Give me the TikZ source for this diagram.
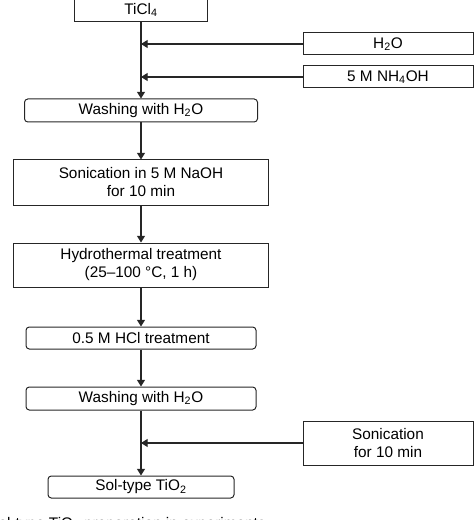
\documentclass[tikz,border=0pt]{standalone}
\usepackage{fontspec}
\setmainfont{Liberation Sans}
\usetikzlibrary{arrows.meta}

\begin{document}
\begin{tikzpicture}[x=0.75pt,y=-0.75pt,
  font=\fontsize{11.5pt}{13.5pt}\selectfont,
  box/.style={draw=black!85,line width=0.75pt,inner sep=0pt,align=center},
  roundbox/.style={box,rounded corners=2.5pt},
  flow/.style={draw=black!85,line width=0.8pt,-{Triangle[length=5pt,width=6pt]}}]
  \useasboundingbox (0,0) rectangle (474,520);
  \clip (0,0) rectangle (474,520);

  % main column
  \node[box,minimum width=99.75pt,minimum height=18pt] (ticl) at (141,10) {TiCl\textsubscript{4}};
  \node[roundbox,minimum width=174.75pt,minimum height=17.25pt] (wash1) at (141,110.5) {Washing with H\textsubscript{2}O};
  \node[box,minimum width=191.25pt,minimum height=33.75pt] (soni) at (141,182.5) {Sonication in 5 M NaOH\\for 10 min};
  \node[box,minimum width=191.25pt,minimum height=33pt] (hydro) at (141,265) {Hydrothermal treatment\\(25--100 °C, 1 h)};
  \node[roundbox,minimum width=172.5pt,minimum height=16.5pt] (hcl) at (141,338) {0.5 M HCl treatment};
  \node[roundbox,minimum width=172.5pt,minimum height=17.25pt] (wash2) at (141,398.5) {Washing with H\textsubscript{2}O};
  \node[roundbox,minimum width=139.5pt,minimum height=16.5pt] (sol) at (141,487) {Sol-type TiO\textsubscript{2}};

  % side inputs
  \node[box,minimum width=127.5pt,minimum height=16.5pt] (h2o) at (388,44) {H\textsubscript{2}O};
  \node[box,minimum width=127.5pt,minimum height=16.5pt] (nh4) at (388,77) {5 M NH\textsubscript{4}OH};
  \node[box,minimum width=127.5pt,minimum height=33pt] (soni2) at (388,443) {Sonication\\for 10 min};

  \coordinate (inH2O) at (ticl |- h2o);
  \coordinate (inNH4) at (ticl |- nh4);
  \coordinate (inSoni) at (ticl |- soni2);

  \draw[flow] (ticl) -- (wash1);
  \draw[flow] (wash1) -- (soni);
  \draw[flow] (soni) -- (hydro);
  \draw[flow] (hydro) -- (hcl);
  \draw[flow] (hcl) -- (wash2);
  \draw[flow] (wash2) -- (sol);

  \draw[flow] (h2o) -- (inH2O);
  \draw[flow] (nh4) -- (inNH4);
  \draw[flow] (soni2) -- (inSoni);

  % caption, cut off by the frame
  \node[anchor=base west,inner sep=0pt] (caption) at (-97,528) {Flowchart of sol-type TiO\textsubscript{2} preparation in experiments};
\end{tikzpicture}
\end{document}
